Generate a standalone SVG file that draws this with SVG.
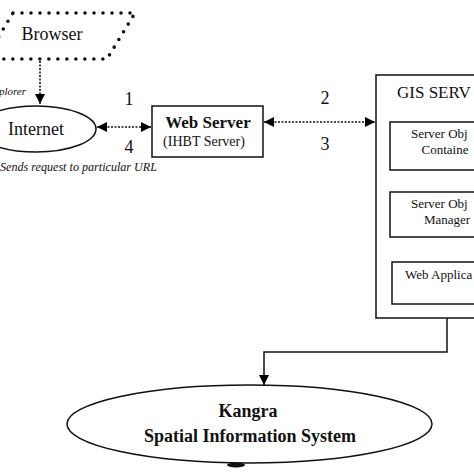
<svg xmlns="http://www.w3.org/2000/svg" width="474" height="474" viewBox="0 0 474 474" font-family="'Liberation Serif', 'Times New Roman', serif">
<defs>
<marker id="ah" viewBox="0 0 10 10" refX="10" refY="5" markerWidth="10" markerHeight="10" markerUnits="userSpaceOnUse" orient="auto-start-reverse">
<path d="M0,0 L10,5 L0,10 z" fill="#000"/>
</marker>
<style>
text{font-family:'Liberation Serif','Times New Roman',serif;fill:#111}
.b{font-weight:bold}
.i{font-style:italic}
.box{fill:#fff;stroke:#111;stroke-width:1.5}
.dot{fill:none;stroke:#111;stroke-width:1.6;stroke-dasharray:2 1.5}
.ln{fill:none;stroke:#111;stroke-width:1.5}
</style>
</defs>
<rect width="474" height="474" fill="#fff"/>
<g id="browser">
<path d="M13,13 L135,13 L107,59 L-15,59 z" fill="none" stroke="#111" stroke-width="3.6" stroke-linecap="round" stroke-dasharray="0 9"/>
<text x="52" y="40" font-size="18" text-anchor="middle">Browser</text>
</g>
<g id="internet">
<ellipse class="box" cx="36" cy="129" rx="60" ry="23"/>
<text x="36" y="135" font-size="18" text-anchor="middle">Internet</text>
</g>
<g id="webserver">
<rect class="box" x="152" y="106" width="111" height="51"/>
<text class="b" x="208" y="128" font-size="17" text-anchor="middle">Web Server</text>
<text x="204" y="146" font-size="14" text-anchor="middle">(IHBT Server)</text>
</g>
<g id="gisserver">
<rect class="box" x="376" y="75" width="120" height="243"/>
<text x="397" y="98" font-size="17">GIS SERV</text>
</g>
<g id="soc">
<rect class="box" x="390" y="122" width="100" height="48"/>
<text x="411" y="138" font-size="13">Server Obj</text>
<text x="421.5" y="154" font-size="13">Containe</text>
</g>
<g id="som">
<rect class="box" x="390" y="192" width="100" height="45"/>
<text x="411" y="208" font-size="13">Server Obj</text>
<text x="424" y="224" font-size="13">Manager</text>
</g>
<g id="webapp">
<rect class="box" x="392" y="262" width="100" height="42"/>
<text x="405" y="279" font-size="13">Web Applica</text>
</g>
<g id="kangra">
<ellipse class="box" cx="249.5" cy="424" rx="182.5" ry="39"/>
<text class="b" x="248" y="417" font-size="18" text-anchor="middle">Kangra</text>
<text class="b" x="250" y="442" font-size="18" text-anchor="middle">Spatial Information System</text>
<ellipse cx="236" cy="465" rx="9" ry="2.5" fill="#111"/>
</g>
<g id="connectors">
<path class="dot" d="M40,61 L40,104" marker-end="url(#ah)"/>
<path class="dot" d="M97,127 L151,127" marker-start="url(#ah)" marker-end="url(#ah)"/>
<path class="dot" d="M264,122 L375,122" marker-start="url(#ah)" marker-end="url(#ah)"/>
<path class="ln" d="M447,318 L447,352 L264,352 L264,385" marker-end="url(#ah)"/>
</g>
<g id="labels">
<text class="i" x="26" y="95" font-size="11" text-anchor="end">plorer</text>
<text class="i" x="0" y="171" font-size="12" textLength="157" lengthAdjust="spacingAndGlyphs">Sends request to particular URL</text>
<text x="129" y="105" font-size="18" text-anchor="middle">1</text>
<text x="129" y="153" font-size="18" text-anchor="middle">4</text>
<text x="325" y="104" font-size="18" text-anchor="middle">2</text>
<text x="325" y="150" font-size="18" text-anchor="middle">3</text>
</g>
</svg>
